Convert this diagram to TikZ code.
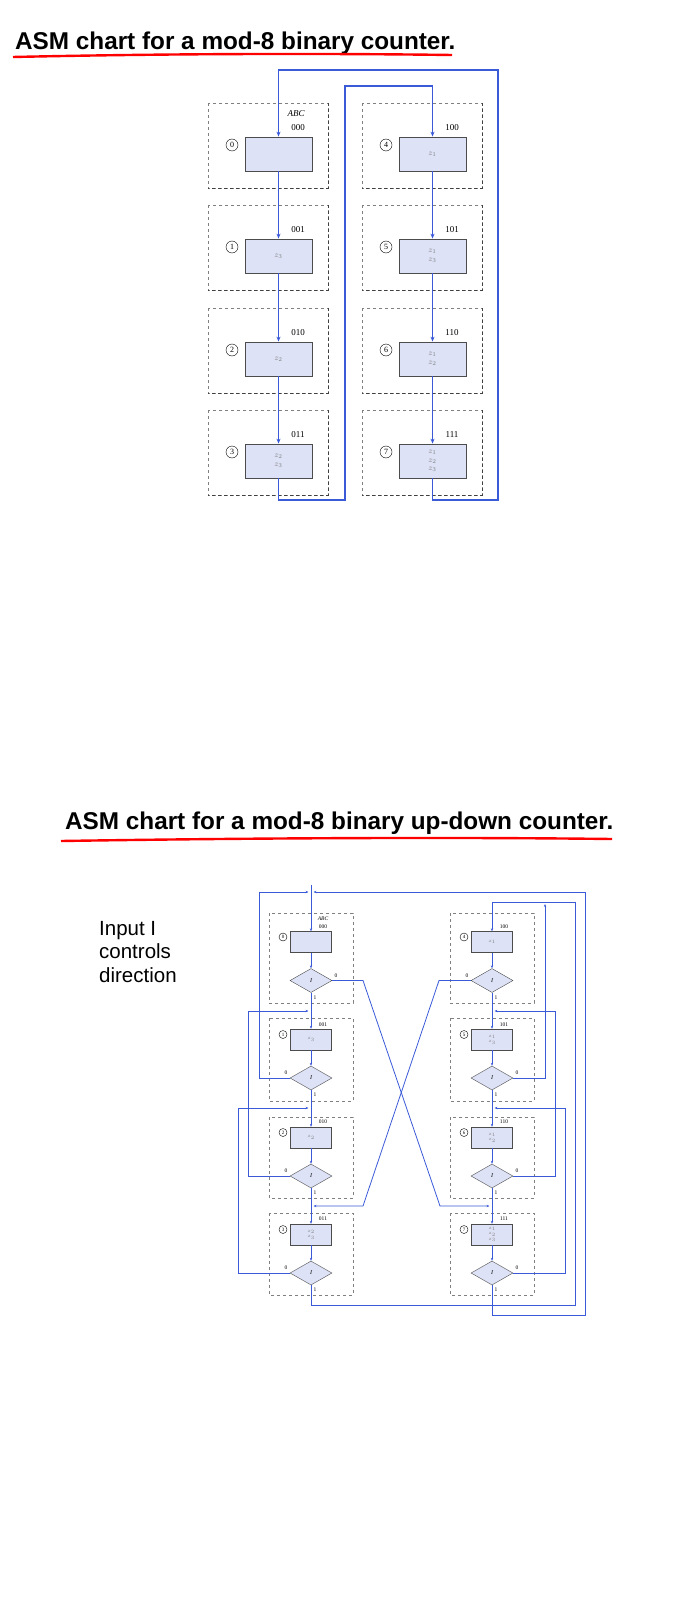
\documentclass[tikz,border=0pt]{standalone}
\usepackage{fontspec}
\setmainfont{Liberation Serif}
\newfontfamily\arial{Liberation Sans}
\usetikzlibrary{shapes.geometric,arrows.meta}
\definecolor{bl}{HTML}{3A5AD8}
\definecolor{fillc}{HTML}{DDE2F6}
\tikzset{
  wire/.style={draw=bl,line width=1.3pt},
  arr/.style={wire,-{Stealth[length=5pt,width=4pt]}},
  arrs/.style={draw=bl,line width=0.8pt,-{Stealth[length=3pt,width=2.4pt]}},
  dbox/.style={draw=gray,dashed,line width=0.9pt},
  rbig/.style={draw=black!70,fill=fillc,line width=0.8pt,minimum width=67pt,minimum height=34pt,inner sep=0pt,align=center,font=\fontsize{8}{9}\selectfont,text=gray},
  rsm/.style={draw=black!70,fill=fillc,minimum width=41pt,minimum height=21pt,inner sep=0pt,align=center,font=\fontsize{5}{5.5}\selectfont,text=gray},
  dia/.style={diamond,aspect=1.75,draw=black!70,fill=fillc,minimum width=42pt,minimum height=24pt,inner sep=0pt,font=\fontsize{6}{6}\itshape\selectfont},
  cbig/.style={circle,draw,inner sep=0pt,minimum size=12pt,font=\fontsize{8}{8}\selectfont},
  csm/.style={circle,draw,inner sep=0pt,minimum size=8pt,font=\fontsize{5}{5}\selectfont},
  lbig/.style={font=\fontsize{9}{9}\selectfont,inner sep=0pt},
  lsm/.style={font=\fontsize{5.5}{5.5}\selectfont,inner sep=0pt},
  ttl/.style={font=\arial\bfseries\fontsize{24.3}{24}\selectfont,anchor=west,inner sep=0pt},
}
\begin{document}
\begin{tikzpicture}[x=1pt,y=-1pt]
\useasboundingbox (0,0) rectangle (690,1605);
% titles
\node[ttl] (t1) at (15,43) {ASM chart for a mod-8 binary counter.};
\draw[red,line width=2.4pt] (13,57) .. controls (150,54) and (300,53) .. (452,55);
\node[ttl] (t2) at (65,823) {ASM chart for a mod-8 binary up-down counter.};
\draw[red,line width=2.4pt] (61,841) .. controls (250,838) and (450,837) .. (612,839);
\node[font=\arial\fontsize{20.5}{23.5}\selectfont,align=left,anchor=north west,inner sep=0pt] (inp) at (99,921) {Input I\\controls\\direction};

% ===== diagram 1 =====
\foreach \cx/\col in {278/0,432/1}{
  \foreach \ty/\r in {103/0,205/1,308/2,410/3}{
    \draw[dbox] (\cx-70,\ty) rectangle (\cx+50,\ty+85);
    \draw[dbox,draw=black!75] (\cx+50,\ty) -- (\cx+50,\ty+85) -- (\cx-70,\ty+85);
  }
}
\node[rbig] (a0) at (278.5,154) {};
\node[rbig] (a1) at (278.5,256) {$z_3$};
\node[rbig] (a2) at (278.5,359) {$z_2$};
\node[rbig] (a3) at (278.5,461) {$z_2$\\$z_3$};
\node[rbig] (a4) at (432.5,154) {$z_1$};
\node[rbig] (a5) at (432.5,256) {$z_1$\\$z_3$};
\node[rbig] (a6) at (432.5,359) {$z_1$\\$z_2$};
\node[rbig,font=\fontsize{8}{8.5}\selectfont] (a7) at (432.5,461) {$z_1$\\$z_2$\\$z_3$};
\foreach \n/\cx/\y in {0/278/145,1/278/247,2/278/350,3/278/452,4/432/145,5/432/247,6/432/350,7/432/452}{
  \node[cbig] (ca\n) at (\cx-46,\y) {\n};
}
\node[lbig,font=\fontsize{9}{9}\itshape\selectfont] (abc1) at (296,114) {ABC};
\foreach \n/\cx/\y/\code in {0/278/128/000,1/278/230/001,2/278/333/010,3/278/435/011,4/432/128/100,5/432/230/101,6/432/333/110,7/432/435/111}{
  \node[lbig] (ka\n) at (\cx+20,\y) {\code};
}
\draw[arr] (a0) -- (a1);
\draw[arr] (a1) -- (a2);
\draw[arr] (a2) -- (a3);
\draw[arr] (a4) -- (a5);
\draw[arr] (a5) -- (a6);
\draw[arr] (a6) -- (a7);
\draw[arr] (a3.south) -- (278.5,500) -| (345,86) -| (a4.north);
\draw[arr] (a7.south) -- (432.5,500) -| (498,70) -| (a0.north);

% ===== diagram 2 =====
\foreach \cx in {311,492}{
  \foreach \ty/\by in {913/1003,1018/1101,1117/1198,1213/1295}{
    \draw[dbox,line width=0.6pt] (\cx-42,\ty) rectangle (\cx+42,\by);
  }
}
\foreach \n/\cx/\ry/\txt in {0/311/942/{},1/311/1039.5/{$z_3$},2/311/1137.5/{$z_2$},3/311/1234.5/{$z_2$\\$z_3$},4/492/942/{$z_1$},5/492/1039.5/{$z_1$\\$z_3$},6/492/1137.5/{$z_1$\\$z_2$},7/492/1234.5/{$z_1$\\$z_2$\\$z_3$}}{
  \node[rsm] (s\n) at (\cx,\ry) {\txt};
  \node[dia] (d\n) at (\cx,\ry+38.5) {I};
  \node[csm] (cs\n) at (\cx-28,\ry-5) {\n};
}
\node[lsm,font=\fontsize{5.5}{5.5}\itshape\selectfont] (abc2) at (323,919) {ABC};
\foreach \n/\cx/\y/\code in {0/311/927/000,1/311/1025/001,2/311/1122/010,3/311/1219/011,4/492/927/100,5/492/1025/101,6/492/1122/110,7/492/1219/111}{
  \node[lsm] (k\n) at (\cx+12,\y) {\code};
}
% 0/1 labels
\node[lsm] (z0) at (336,976) {0};
\node[lsm] (z4) at (467,976) {0};
\foreach \n in {1,2,3}{ \node[lsm] at ([xshift=-25pt,yshift=5pt]d\n.center) {0}; }
\foreach \n in {5,6,7}{ \node[lsm] at ([xshift=25pt,yshift=5pt]d\n.center) {0}; }
\foreach \n in {0,...,7}{ \node[lsm] at ([xshift=4pt,yshift=-17pt]d\n.center) {1}; }

\foreach \n in {0,...,7}{ \draw[arrs] (s\n) -- (d\n); }
\draw[arrs] (311,885) -- (s0.north);
\draw[arrs] (d0) -- (s1);
\draw[arrs] (d1) -- (s2);
\draw[arrs] (d2) -- (s3);
\draw[arrs] (d4) -- (s5);
\draw[arrs] (d5) -- (s6);
\draw[arrs] (d6) -- (s7);
% down-count loops, left
\draw[arrs] (d1.west) -| (259,892) -- (308.5,892);
\draw[arrs] (d2.west) -| (248,1011) -- (308.5,1011);
\draw[arrs] (d3.west) -| (238,1108) -- (308.5,1108);
% crossings
\draw[arrs] (d0.east) -- (363,980.5) -- (440,1206) -- (489.5,1206);
\draw[arrs] (d4.west) -- (439,980.5) -- (363,1206) -- (313.5,1206);
% up 3->4 and 7->0
\draw[arrs] (d3.south) -- (311,1305) -| (575,902) -| (s4.north);
\draw[arrs] (d7.south) -- (492,1315) -| (585,892) -- (313.5,892);
% down-count loops, right
\draw[arrs] (d5.east) -| (545,904);
\draw[arrs] (d6.east) -| (555,1011) -- (494.5,1011);
\draw[arrs] (d7.east) -| (565,1108) -- (494.5,1108);
\end{tikzpicture}
\end{document}
